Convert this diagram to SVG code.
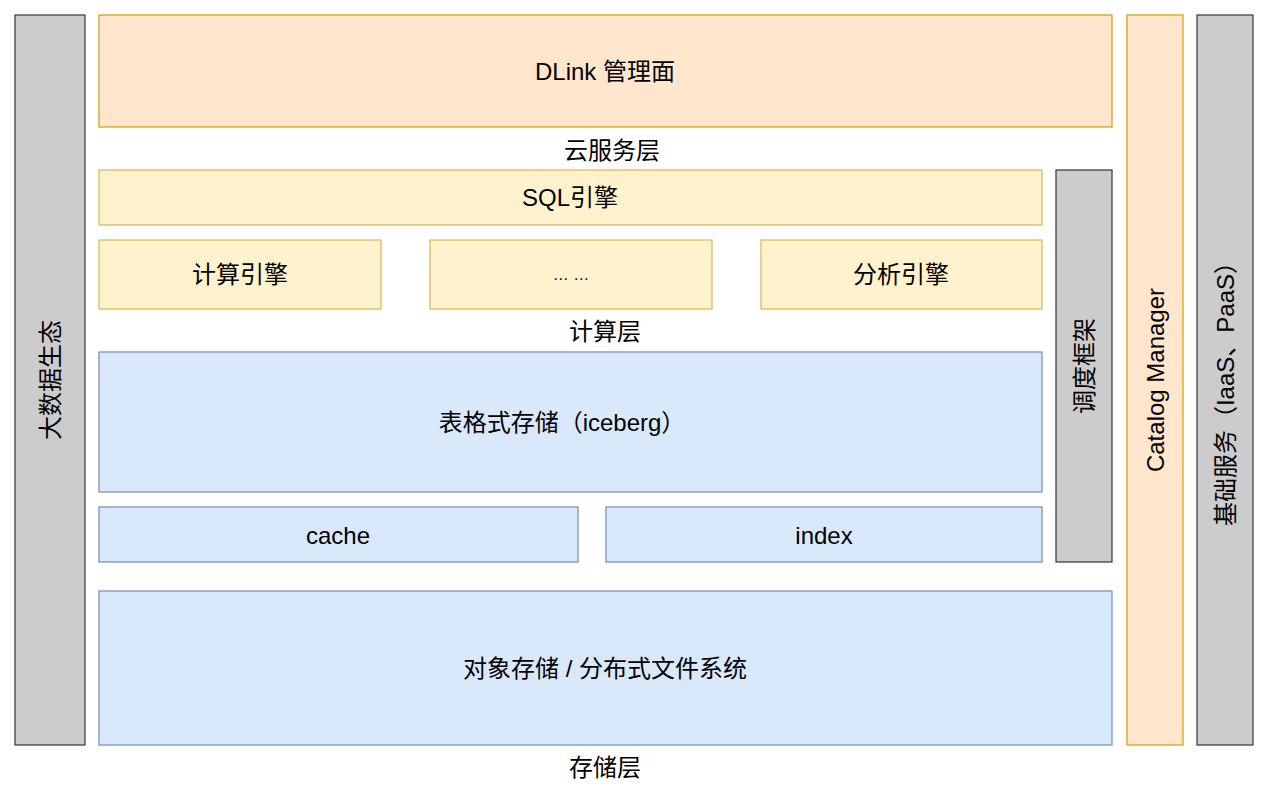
<svg xmlns="http://www.w3.org/2000/svg" width="1269" height="803" viewBox="0 0 1269 803">
<style>
text{font-family:"Liberation Sans","Noto Sans CJK SC",sans-serif;font-size:24px;fill:#000;text-anchor:middle;dominant-baseline:central}
.g{fill:#cccccc;stroke:#333;stroke-width:1.2}
.o{fill:#ffe6cc;stroke:#d79b00;stroke-width:1.2}
.y{fill:#fff2cc;stroke:#d6b656;stroke-width:1.2}
.b{fill:#dae8fc;stroke:#6c8ebf;stroke-width:1.2}
</style>
<rect width="1269" height="803" fill="#fff"/>
<g id="bigdata"><rect class="g" x="15" y="15" width="70" height="730"/><text transform="translate(50,380) rotate(-90)">大数据生态</text></g>
<g id="dlink"><rect class="o" x="99" y="15" width="1013" height="112"/><text x="605" y="71">DLink 管理面</text></g>
<text x="612" y="150">云服务层</text>
<g id="sql"><rect class="y" x="99" y="170" width="943" height="55"/><text x="570" y="197">SQL引擎</text></g>
<g id="compute"><rect class="y" x="99" y="240" width="282" height="69"/><text x="240" y="274">计算引擎</text></g>
<g id="dots"><rect class="y" x="430" y="240" width="282" height="69"/><text x="571" y="274" style="font-size:16px">… …</text></g>
<g id="analysis"><rect class="y" x="761" y="240" width="281" height="69"/><text x="901" y="274">分析引擎</text></g>
<text x="605" y="331">计算层</text>
<g id="table"><rect class="b" x="99" y="352" width="943" height="140"/><text x="562" y="422">表格式存储（iceberg）</text></g>
<g id="cache"><rect class="b" x="99" y="507" width="479" height="55"/><text x="338" y="535">cache</text></g>
<g id="index"><rect class="b" x="606" y="507" width="436" height="55"/><text x="824" y="535">index</text></g>
<g id="sched"><rect class="g" x="1056" y="170" width="56" height="392"/><text transform="translate(1084,366) rotate(-90)">调度框架</text></g>
<g id="objstore"><rect class="b" x="99" y="591" width="1013" height="154"/><text x="605" y="668">对象存储 / 分布式文件系统</text></g>
<text x="605" y="767">存储层</text>
<g id="catalog"><rect class="o" x="1127" y="15" width="56" height="730"/><text transform="translate(1155,380) rotate(-90)">Catalog Manager</text></g>
<g id="infra"><rect class="g" x="1197" y="15" width="56" height="730"/><text transform="translate(1225,388) rotate(-90)">基础服务（IaaS、PaaS）</text></g>
<g id="connectors"></g>
</svg>
